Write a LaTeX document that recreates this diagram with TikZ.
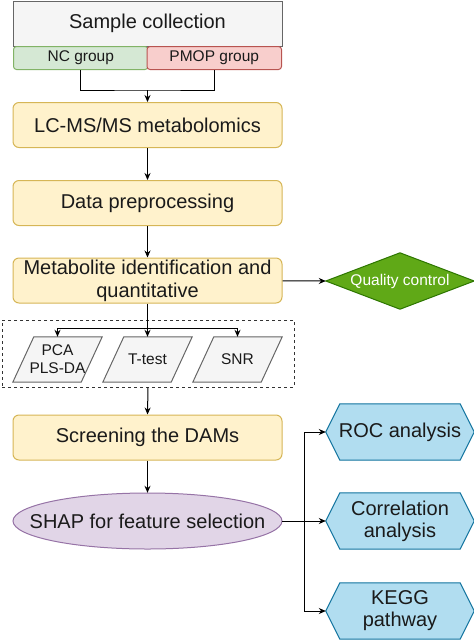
\documentclass[tikz,border=0pt]{standalone}
\usepackage{fontspec}
\setmainfont{Liberation Sans}
\usetikzlibrary{arrows.meta,shapes.geometric,backgrounds}
\definecolor{grayfill}{HTML}{F5F5F5}
\definecolor{grayline}{HTML}{666666}
\definecolor{greenfill}{HTML}{D5E8D4}
\definecolor{greenline}{HTML}{82B366}
\definecolor{redfill}{HTML}{F8CECC}
\definecolor{redline}{HTML}{B85450}
\definecolor{yelfill}{HTML}{FFF2CC}
\definecolor{yelline}{HTML}{D6B656}
\definecolor{qcfill}{HTML}{60A917}
\definecolor{qcline}{HTML}{2D7600}
\definecolor{purfill}{HTML}{E1D5E7}
\definecolor{purline}{HTML}{9673A6}
\definecolor{bluefill}{HTML}{B1DDF0}
\definecolor{blueline}{HTML}{10739E}
\definecolor{txt}{HTML}{1A1A1A}
\tikzset{
  big/.style={font=\fontsize{20}{22}\selectfont, text=txt},
  small/.style={font=\fontsize{15.5}{18}\selectfont, text=txt},
  stepbox/.style={big, draw=yelline, fill=yelfill, rounded corners=6, minimum width=269, minimum height=45, inner sep=0, line width=1},
  grp/.style={small, minimum width=134.5, minimum height=23, inner sep=0, rounded corners=3, line width=1},
  para/.style={small, minimum width=89, minimum height=45, inner sep=0, align=center},
  hexa/.style={big, minimum width=148, minimum height=56, inner sep=0, align=center},
  conn/.style={line width=1, draw=black, -{Stealth[length=7,width=6]}},
  plain/.style={line width=1, draw=black},
}
\begin{document}
\begin{tikzpicture}[x=1pt,y=-1pt]
\useasboundingbox (0,0) rectangle (474,641);
% top block
\node[big, draw=grayline, fill=grayfill, line width=1, minimum width=269, minimum height=45, inner sep=0] (sc) at (147.5,23.5) {Sample collection};
\node[grp, draw=greenline, fill=greenfill, anchor=north west] (nc) at (13,46) {NC group};
\node[grp, draw=redline, fill=redfill, anchor=north east] (pm) at (282,46) {PMOP group};
\node[stepbox] (lc) at (147.5,125) {LC-MS/MS metabolomics};
\node[stepbox] (dp) at (147.5,203) {Data preprocessing};
\node[stepbox, align=center, font=\fontsize{20}{23}\selectfont] (mi) at (147.5,280.5) {Metabolite identification and\\quantitative};
% quality control diamond
\node[small, text=white, minimum width=148, minimum height=56, inner sep=0] (qc) at (400,281) {Quality control};
\begin{pgfonlayer}{background}
\draw[line width=1, draw=qcline, fill=qcfill] (qc.west) -- (qc.north) -- (qc.east) -- (qc.south) -- cycle;
\end{pgfonlayer}
% dashed group
\node[draw=black!80, dashed, line width=1, minimum width=292, minimum height=67, inner sep=0] (grpbox) at (148,353.5) {};
\node[para] (pca) at (57.5,359.5) {PCA\\PLS-DA};
\node[para] (tt) at (147.5,359.5) {T-test};
\node[para] (snr) at (237.5,359.5) {SNR};
\begin{pgfonlayer}{background}
\foreach \p in {pca,tt,snr}{
  \draw[line width=1, draw=grayline, fill=grayfill] ([xshift=21]\p.north west) -- (\p.north east) -- ([xshift=-21]\p.south east) -- (\p.south west) -- cycle;
}
\end{pgfonlayer}
\node[stepbox] (scr) at (147.5,437.5) {Screening the DAMs};
\node[big, minimum width=269, minimum height=56, inner sep=0] (shap) at (147.5,521) {SHAP for feature selection};
\begin{pgfonlayer}{background}
\draw[line width=1, draw=purline, fill=purfill] (shap.center) ellipse [x radius=134.5, y radius=28];
\end{pgfonlayer}
% hexagons
\node[hexa] (roc) at (400,432) {ROC analysis};
\node[hexa] (cor) at (400,521) {Correlation\\analysis};
\node[hexa] (kegg) at (400,611) {KEGG\\pathway};
\begin{pgfonlayer}{background}
\foreach \h in {roc,cor,kegg}{
  \draw[line width=1, draw=blueline, fill=bluefill] (\h.west) -- ([xshift=14]\h.north west) -- ([xshift=-14]\h.north east) -- (\h.east) -- ([xshift=-14]\h.south east) -- ([xshift=14]\h.south west) -- cycle;
}
\end{pgfonlayer}
% connectors
\coordinate (j1) at (147.5,90);
\draw[plain] (nc.south) |- (j1) -| (pm.south);
\draw[conn] (j1) -- (lc.north);
\draw[conn] (lc) -- (dp);
\draw[conn] (dp) -- (mi);
\draw[conn] (mi) -- (qc.west);
\coordinate (j2) at (147.5,328);
\draw[conn] (mi.south) -- (tt.north);
\draw[conn] (j2) -| (pca.north);
\draw[conn] (j2) -| (snr.north);
\draw[conn] (grpbox.south) -- (scr.north);
\draw[conn] (scr) -- (shap);
\coordinate (j3) at (304,521);
\draw[conn] (shap.east) -- (cor.west);
\draw[conn] (j3) |- (roc.west);
\draw[conn] (j3) |- (kegg.west);
\end{tikzpicture}
\end{document}
